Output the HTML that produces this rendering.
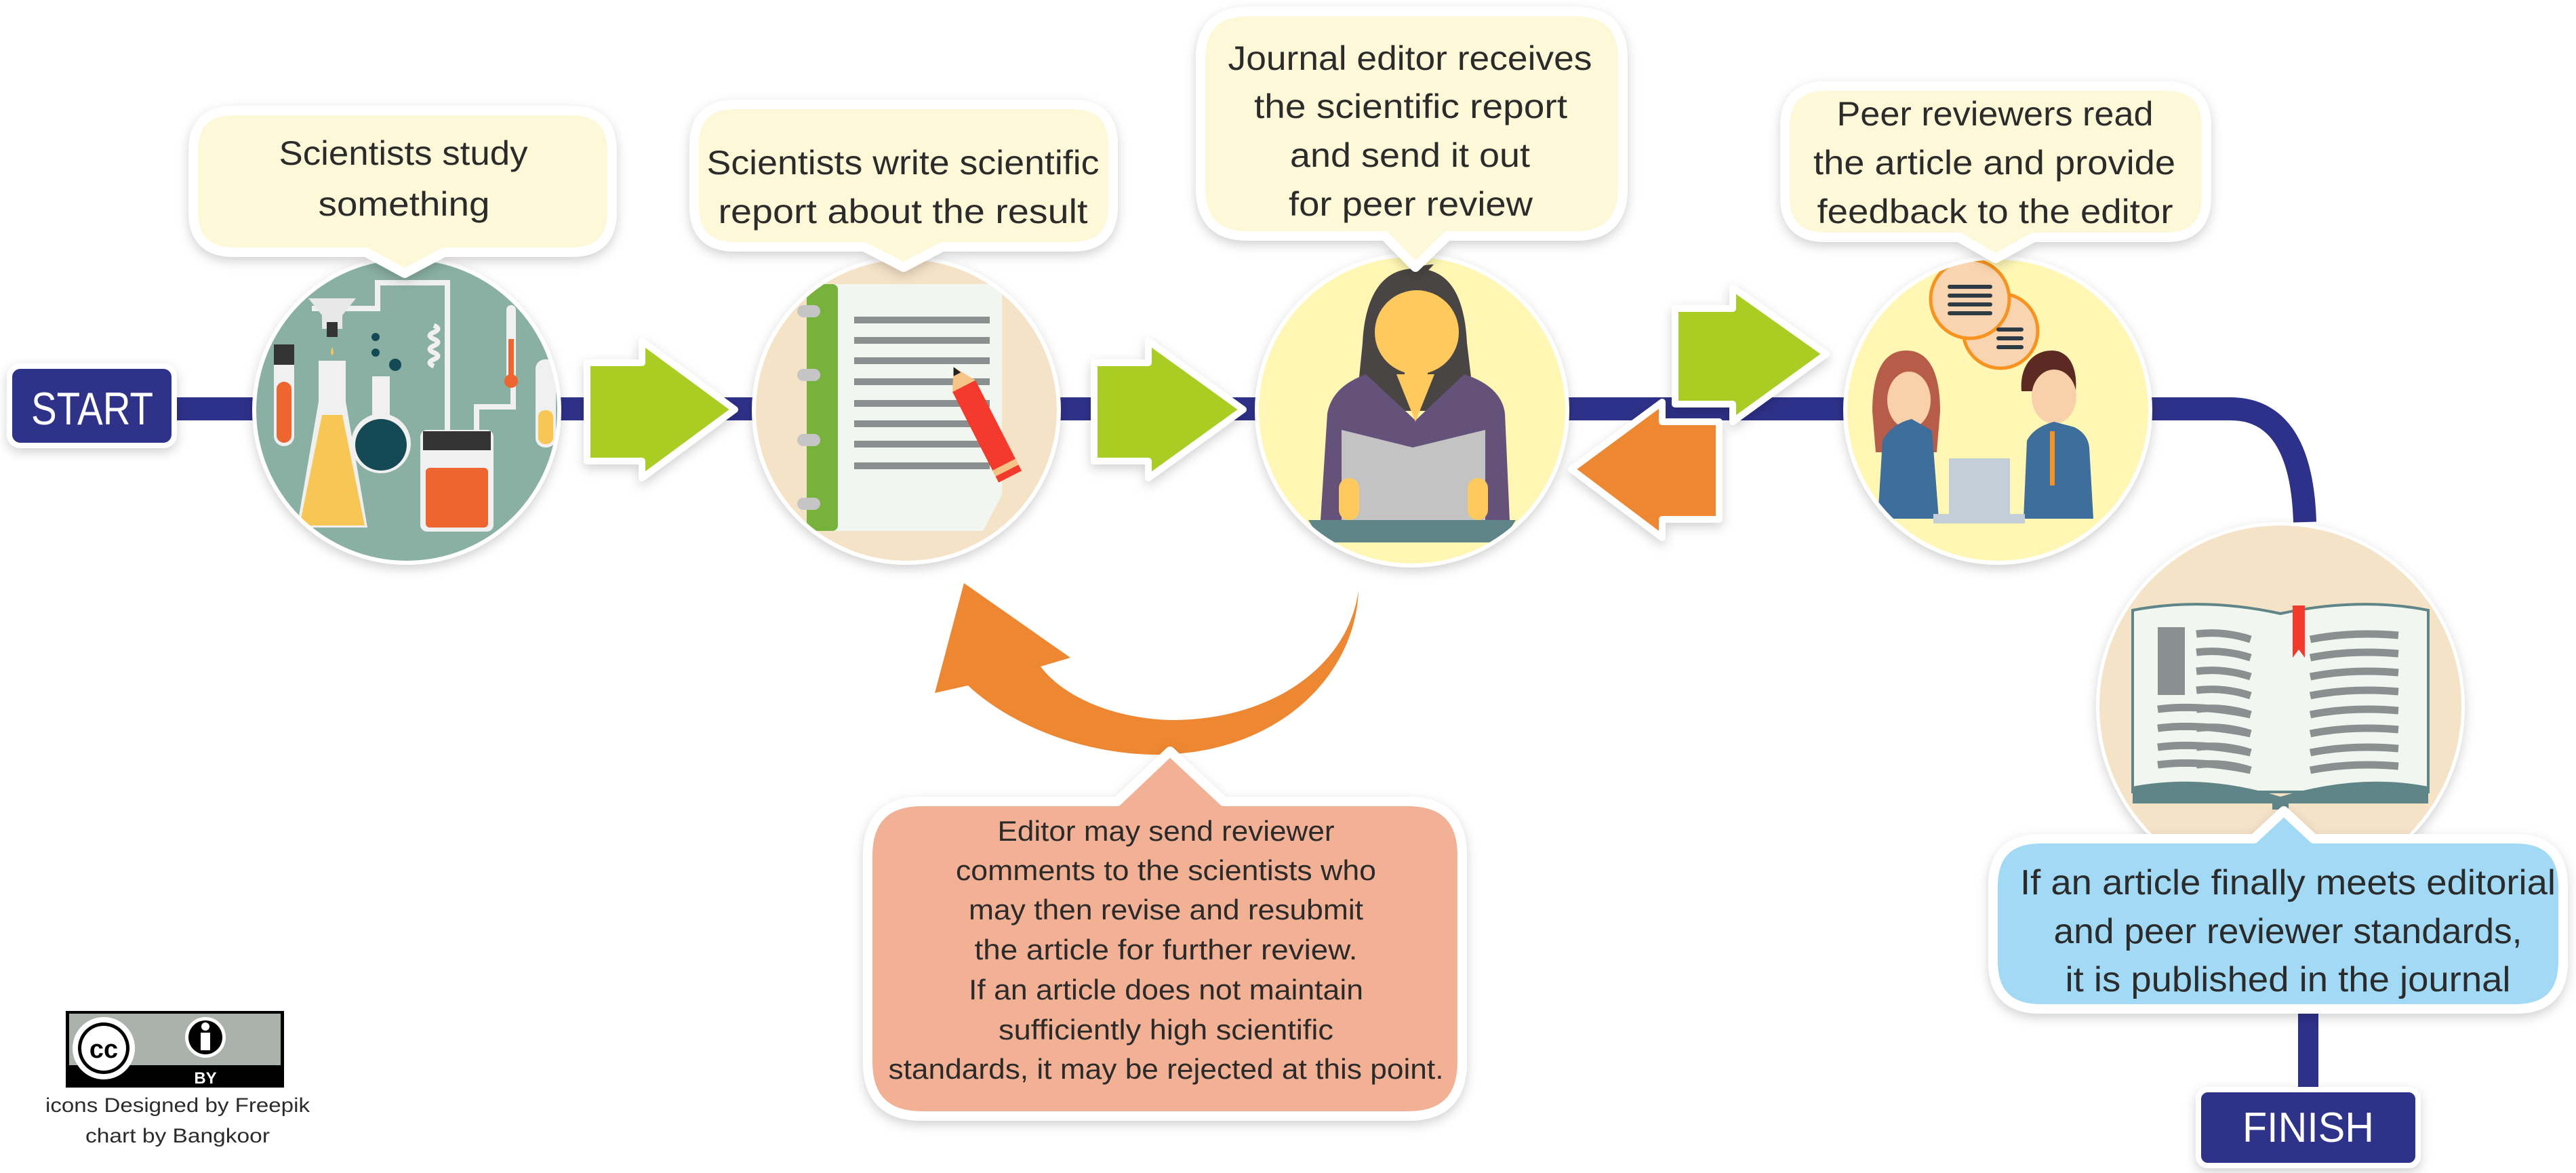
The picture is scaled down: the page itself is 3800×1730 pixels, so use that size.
<!DOCTYPE html>
<html><head><meta charset="utf-8"><style>html,body{margin:0;padding:0;background:#fff}svg{display:block}</style></head>
<body>
<svg width="3800" height="1730" viewBox="0 0 3800 1730" xmlns="http://www.w3.org/2000/svg" font-family="Liberation Sans, sans-serif">
<defs>
<filter id="sh" x="-10%" y="-10%" width="120%" height="130%"><feDropShadow dx="0" dy="6" stdDeviation="8" flood-color="#000" flood-opacity="0.18"/></filter>
<clipPath id="c1"><circle cx="600" cy="605" r="222"/></clipPath>
<clipPath id="c2"><circle cx="1337" cy="605" r="222"/></clipPath>
<clipPath id="c3"><circle cx="2083" cy="605" r="226"/></clipPath>
<clipPath id="c4"><circle cx="2947" cy="605" r="222"/></clipPath>
<clipPath id="c5"><circle cx="3364" cy="1042" r="267"/></clipPath>
</defs>

<path d="M250 603 L3290 603 Q3395 603 3400 770" fill="none" stroke="#2e3189" stroke-width="34"/>
<line x1="3405" y1="1470" x2="3405" y2="1615" stroke="#2e3189" stroke-width="30"/>

<rect x="14" y="540" width="243" height="117" rx="16" fill="#2e3189" stroke="#fff" stroke-width="8" filter="url(#sh)"/>
<text x="136" y="626" font-size="68" fill="#fff" text-anchor="middle" textLength="180" lengthAdjust="spacingAndGlyphs">START</text>

<rect x="3243" y="1607" width="324" height="112" rx="14" fill="#2e3189" stroke="#fff" stroke-width="8" filter="url(#sh)"/>
<text x="3405" y="1684" font-size="62" fill="#fff" text-anchor="middle" textLength="194" lengthAdjust="spacingAndGlyphs">FINISH</text>

<g filter="url(#sh)">
<circle cx="600" cy="605" r="228" fill="#fff"/>
<circle cx="1337" cy="605" r="228" fill="#fff"/>
<circle cx="2083" cy="605" r="232" fill="#fff"/>
<circle cx="2947" cy="605" r="228" fill="#fff"/>
<circle cx="3364" cy="1042" r="272" fill="#fff"/>
</g>
<g clip-path="url(#c1)">
<rect x="370" y="380" width="460" height="460" fill="#8ab0a3"/>
<polyline points="660,640 660,417 557,417 557,455 460,455" fill="none" stroke="#f0f0f0" stroke-width="8"/>
<polyline points="703,640 703,600 757,600 757,560" fill="none" stroke="#f0f0f0" stroke-width="8"/>
<path d="M640 480 q12 5 0 10 q-12 5 0 10 q12 5 0 10 q-12 5 0 10 q12 5 0 10 q-12 5 0 10" fill="none" stroke="#f0f0f0" stroke-width="7"/>
<path d="M455 440 h70 l-20 25 v20 h-30 v-20 z" fill="#e8e8e8"/>
<rect x="482" y="475" width="16" height="22" fill="#333"/>
<rect x="404" y="508" width="30" height="150" rx="15" fill="#f0f0f0"/>
<rect x="408" y="563" width="22" height="90" rx="11" fill="#ee6530"/>
<rect x="404" y="508" width="30" height="30" fill="#333"/>
<path d="M470 532 h40 v60 l32 186 h-104 l32-186 z" fill="#f0f0f0"/>
<path d="M475 612 h30 l33 163 h-96 z" fill="#f8c655"/>
<path d="M488 520 q2 -15 4 0 q-2 8 -4 0z" fill="#f8c655"/>
<rect x="549" y="555" width="26" height="70" fill="#f0f0f0"/>
<circle cx="562" cy="654" r="44" fill="#f0f0f0"/>
<circle cx="562" cy="656" r="38" fill="#134a55"/>
<circle cx="554" cy="497" r="6" fill="#134a55"/><circle cx="554" cy="520" r="6" fill="#134a55"/><circle cx="583" cy="538" r="9" fill="#134a55"/>
<rect x="620" y="634" width="108" height="150" rx="10" fill="#f0f0f0"/>
<rect x="624" y="636" width="100" height="28" fill="#333"/>
<rect x="628" y="690" width="92" height="88" rx="6" fill="#ee6530"/>
<rect x="747" y="450" width="14" height="115" rx="7" fill="#f0f0f0"/>
<rect x="750" y="500" width="8" height="55" fill="#ee6530"/><circle cx="754" cy="562" r="10" fill="#ee6530"/>
<rect x="790" y="530" width="30" height="130" rx="14" fill="#f0f0f0"/><rect x="794" y="605" width="22" height="50" rx="10" fill="#f8c655"/>
</g>
<g clip-path="url(#c2)">
<rect x="1110" y="380" width="460" height="460" fill="#f5e3c8"/>
<path d="M1212 419 H1478 V730 L1450 783 H1212 Z" fill="#f1f7f0"/>
<rect x="1190" y="419" width="46" height="364" rx="8" fill="#77b23c"/>
<g fill="#8a9090"><rect x="1260" y="467" width="200" height="10"/><rect x="1260" y="497" width="200" height="10"/><rect x="1260" y="527" width="200" height="10"/><rect x="1260" y="558" width="200" height="10"/><rect x="1260" y="590" width="200" height="10"/><rect x="1260" y="620" width="200" height="10"/><rect x="1260" y="650" width="200" height="10"/><rect x="1260" y="682" width="200" height="10"/></g>
<g fill="#c5c5c5"><rect x="1176" y="450" width="34" height="18" rx="9"/><rect x="1176" y="544" width="34" height="18" rx="9"/><rect x="1176" y="640" width="34" height="18" rx="9"/><rect x="1176" y="734" width="34" height="18" rx="9"/></g>
<g transform="translate(1412 552) rotate(-27)">
<rect x="-18" y="20" width="38" height="150" fill="#f43a2c"/><rect x="-18" y="150" width="38" height="10" fill="#f6c486"/>
<polygon points="-18,20 20,20 0,-12" fill="#f6c486"/><polygon points="-6,0 6,0 0,-12" fill="#222"/>
</g>
</g>
<g clip-path="url(#c3)">
<rect x="1850" y="375" width="470" height="470" fill="#fff7b3"/>
<path d="M2088 396 c-55 0 -75 50 -78 110 l-10 100 h176 l-12 -100 c-3 -60 -20 -110 -76 -110z" fill="#4a4545"/>
<ellipse cx="2090" cy="490" rx="62" ry="62" fill="#fec95d"/>
<path d="M2035 440 q40 -5 80 -50 q-40 0 -80 50z" fill="#4a4545"/>
<rect x="2072" y="535" width="34" height="30" fill="#fec95d"/>
<path d="M1948 767 L1958 610 Q1965 570 2015 552 L2088 620 L2160 552 Q2215 570 2220 610 L2227 767 Z" fill="#64527a"/>
<path d="M2060 552 h56 l-28 70 z" fill="#fec95d"/>
<path d="M1979 634 L2084 660 L2191 634 V767 H1979 Z" fill="#c3c3c3"/>
<rect x="1975" y="705" width="30" height="62" rx="15" fill="#fec95d"/><rect x="2165" y="705" width="30" height="62" rx="15" fill="#fec95d"/>
<polygon points="1930,767 2236,767 2215,800 1950,800" fill="#5f8588"/>
<rect x="1900" y="800" width="400" height="60" fill="#fff7b3"/>
</g>
<g clip-path="url(#c4)">
<rect x="2720" y="380" width="460" height="460" fill="#fff7b3"/>
<circle cx="2951" cy="488" r="55" fill="#f9d4b0" stroke="#f7931e" stroke-width="5"/>
<circle cx="2906" cy="441" r="58" fill="#f9d4b0" stroke="#f7931e" stroke-width="5"/>
<g fill="#2e3b45"><rect x="2873" y="420" width="66" height="6" rx="3"/><rect x="2873" y="433" width="66" height="6" rx="3"/><rect x="2873" y="446" width="66" height="6" rx="3"/><rect x="2873" y="459" width="66" height="6" rx="3"/>
<rect x="2945" y="483" width="40" height="6" rx="3"/><rect x="2945" y="496" width="40" height="6" rx="3"/><rect x="2945" y="509" width="40" height="6" rx="3"/></g>
<path d="M2812 517 c-40 0 -50 45 -50 90 l5 60 h90 l5 -60 c0 -45 -10 -90 -50 -90z" fill="#b65c48"/>
<ellipse cx="2816" cy="590" rx="32" ry="42" fill="#f8d0aa"/>
<path d="M2770 765 L2777 650 Q2790 625 2820 618 L2850 635 L2860 765Z" fill="#3e6e9c"/>
<path d="M3027 517 c-30 0 -48 25 -45 60 l80 0 c3 -35 -10 -60 -35 -60z" fill="#5c2a22"/>
<ellipse cx="3030" cy="585" rx="33" ry="40" fill="#f8d0aa"/>
<path d="M2985 765 L2990 650 Q3000 630 3030 622 L3060 630 Q3080 640 3082 660 L3088 765Z" fill="#3e6e9c"/>
<rect x="3024" y="636" width="7" height="80" fill="#f7931e"/>
<rect x="2875" y="676" width="90" height="90" fill="#c4ced8"/>
<rect x="2852" y="758" width="135" height="14" fill="#c4ced8"/>
</g>
<g clip-path="url(#c5)">
<rect x="3090" y="770" width="550" height="550" fill="#f5e3c8"/>
<path d="M3146 900 Q3250 880 3364 905 Q3480 880 3582 900 V1168 H3146 Z" fill="#f1f7f0" stroke="#5f8588" stroke-width="4"/>
<g stroke="#8a9090" stroke-width="11" fill="none">
<path d="M3240 935 q40 -5 80 8"/><path d="M3240 962 q40 -5 80 8"/><path d="M3240 990 q40 -5 80 8"/><path d="M3240 1018 q40 -5 80 8"/><path d="M3240 1046 q40 -5 80 8"/><path d="M3240 1074 q40 -5 80 8"/><path d="M3240 1102 q40 -5 80 8"/><path d="M3240 1128 q40 -5 80 8"/>
<path d="M3183 1046 q60 -8 137 8"/><path d="M3183 1074 q60 -8 137 8"/><path d="M3183 1102 q60 -8 137 8"/><path d="M3183 1128 q60 -8 137 8"/>
<path d="M3408 943 q60 -12 130 -6"/><path d="M3408 970 q60 -12 130 -6"/><path d="M3408 998 q60 -12 130 -6"/><path d="M3408 1026 q60 -12 130 -6"/><path d="M3408 1054 q60 -12 130 -6"/><path d="M3408 1082 q60 -12 130 -6"/><path d="M3408 1110 q60 -12 130 -6"/><path d="M3408 1136 q60 -12 130 -6"/>
</g>
<rect x="3183" y="925" width="40" height="100" fill="#8a9090"/>
<polygon points="3382,893 3400,893 3400,970 3391,958 3382,970" fill="#f43a2c"/>
<path d="M3146 1160 Q3250 1140 3364 1175 Q3480 1140 3582 1160 V1185 H3146 Z" fill="#5f8588"/>
<rect x="3352" y="1180" width="24" height="14" fill="#5f8588"/>
</g>

<g filter="url(#sh)" stroke="#fff" stroke-width="10" stroke-linejoin="round">
<polygon points="866,535 947,535 947,503 1084,604 947,705 947,680 866,680" fill="#a9cd21"/>
<polygon points="1614,535 1694,535 1694,503 1834,604 1694,705 1694,680 1614,680" fill="#a9cd21"/>
<polygon points="2536,622 2452,622 2452,593 2318,692 2452,793 2452,766 2536,766" fill="#ee8731"/>
<polygon points="2471,455 2556,455 2556,424 2694,522 2556,622 2556,596 2471,596" fill="#a9cd21"/>
</g>
<path d="M2004 870 C2000 1000 1880 1115 1700 1113 C1580 1110 1480 1060 1428 1011 L1379 1022 L1422 860 L1579 970 L1535 983 C1570 1030 1650 1062 1734 1062 C1880 1060 1990 980 2004 870 Z" fill="#ee8731"/>

<g filter="url(#sh)" stroke="#fff" stroke-width="14" stroke-linejoin="round">
<path d="M345 163 H843 Q903 163 903 223 V312 Q903 372 843 372 H655 L597 403 L540 372 H345 Q285 372 285 312 V223 Q285 163 345 163 Z" fill="#fdf9d8"/>
<path d="M1084 154 H1582 Q1642 154 1642 214 V304 Q1642 364 1582 364 H1390 L1333 394 L1275 364 H1084 Q1024 364 1024 304 V214 Q1024 154 1084 154 Z" fill="#fdf9d8"/>
<path d="M1841 17 H2324 Q2394 17 2394 87 V278 Q2394 348 2324 348 H2135 L2088 394 L2043 348 H1841 Q1771 348 1771 278 V87 Q1771 17 1841 17 Z" fill="#fdf9d8"/>
<path d="M2693 127 H3195 Q3255 127 3255 187 V290 Q3255 350 3195 350 H3000 L2944 381 L2890 350 H2693 Q2633 350 2633 290 V187 Q2633 127 2693 127 Z" fill="#fdf9d8"/>
<path d="M1360 1182 H1648 L1726 1108 L1805 1182 H2077 Q2157 1182 2157 1262 V1566 Q2157 1646 2077 1646 H1360 Q1280 1646 1280 1566 V1262 Q1280 1182 1360 1182 Z" fill="#f2b094"/>
<path d="M3010 1237 H3325 L3369 1196 L3413 1237 H3711 Q3781 1237 3781 1307 V1418 Q3781 1488 3711 1488 H3010 Q2940 1488 2940 1418 V1307 Q2940 1237 3010 1237 Z" fill="#a2d9f5"/>
</g>

<g fill="#2b2b2b" text-anchor="middle" font-size="50">
<text x="595" y="243" textLength="367" lengthAdjust="spacingAndGlyphs">Scientists study</text>
<text x="596" y="318" textLength="253" lengthAdjust="spacingAndGlyphs">something</text>
<text x="1332" y="257" textLength="579" lengthAdjust="spacingAndGlyphs">Scientists write scientific</text>
<text x="1332" y="329" textLength="545" lengthAdjust="spacingAndGlyphs">report about the result</text>
<text x="2080" y="103" textLength="537" lengthAdjust="spacingAndGlyphs">Journal editor receives</text>
<text x="2081" y="174" textLength="462" lengthAdjust="spacingAndGlyphs">the scientific report</text>
<text x="2080" y="246" textLength="354" lengthAdjust="spacingAndGlyphs">and send it out</text>
<text x="2081" y="318" textLength="360" lengthAdjust="spacingAndGlyphs">for peer review</text>
<text x="2943" y="185" textLength="467" lengthAdjust="spacingAndGlyphs">Peer reviewers read</text>
<text x="2942" y="257" textLength="534" lengthAdjust="spacingAndGlyphs">the article and provide</text>
<text x="2943" y="329" textLength="525" lengthAdjust="spacingAndGlyphs">feedback to the editor</text>
</g>
<g fill="#2b2b2b" text-anchor="middle" font-size="42">
<text x="1720" y="1240" textLength="497" lengthAdjust="spacingAndGlyphs">Editor may send reviewer</text>
<text x="1720" y="1298" textLength="620" lengthAdjust="spacingAndGlyphs">comments to the scientists who</text>
<text x="1720" y="1356" textLength="582" lengthAdjust="spacingAndGlyphs">may then revise and resubmit</text>
<text x="1720" y="1415" textLength="565" lengthAdjust="spacingAndGlyphs">the article for further review.</text>
<text x="1720" y="1474" textLength="582" lengthAdjust="spacingAndGlyphs">If an article does not maintain</text>
<text x="1720" y="1533" textLength="494" lengthAdjust="spacingAndGlyphs">sufficiently high scientific</text>
<text x="1720" y="1591" textLength="819" lengthAdjust="spacingAndGlyphs">standards, it may be rejected at this point.</text>
</g>
<g fill="#2b2b2b" text-anchor="middle" font-size="52">
<text x="3375" y="1319" textLength="790" lengthAdjust="spacingAndGlyphs">If an article finally meets editorial</text>
<text x="3375" y="1391" textLength="691" lengthAdjust="spacingAndGlyphs">and peer reviewer standards,</text>
<text x="3375" y="1462" textLength="657" lengthAdjust="spacingAndGlyphs">it is published in the journal</text>
</g>

<rect x="97" y="1491" width="322" height="113" fill="#000"/>
<rect x="102" y="1495" width="312" height="76" fill="#aab2ab"/>
<circle cx="153" cy="1546" r="46" fill="#fff"/><circle cx="153" cy="1546" r="38" fill="#000"/><circle cx="153" cy="1546" r="33" fill="#fff"/>
<text x="153" y="1560" font-size="38" font-weight="bold" text-anchor="middle" fill="#000">cc</text>
<circle cx="303" cy="1530" r="30" fill="#fff"/><circle cx="303" cy="1530" r="25" fill="#000"/>
<circle cx="303" cy="1514" r="6" fill="#fff"/><rect x="296" y="1523" width="14" height="26" fill="#fff"/>
<text x="303" y="1598" font-size="24" font-weight="bold" text-anchor="middle" fill="#fff">BY</text>
<text x="262" y="1640" font-size="30" text-anchor="middle" fill="#2b2b2b" textLength="390" lengthAdjust="spacingAndGlyphs">icons Designed by Freepik</text>
<text x="262" y="1685" font-size="30" text-anchor="middle" fill="#2b2b2b" textLength="272" lengthAdjust="spacingAndGlyphs">chart by Bangkoor</text>
</svg>
</body></html>
